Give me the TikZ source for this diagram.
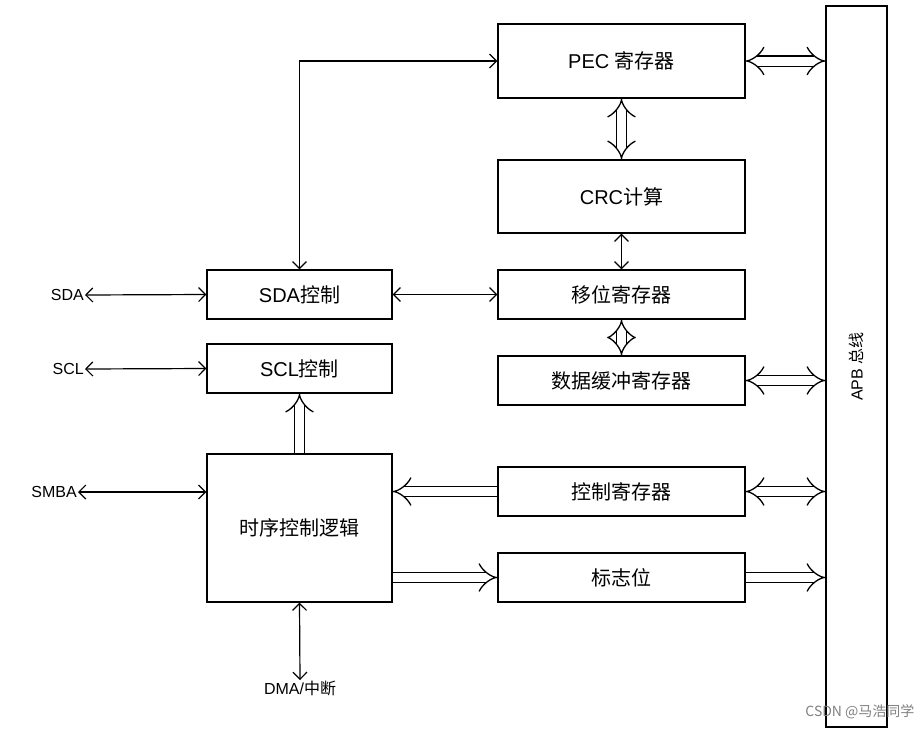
\documentclass[tikz,border=0pt]{standalone}
\usepackage{fontspec}
\setmainfont{Liberation Sans}
\newfontfamily\cjk{Noto Sans CJK SC}
\usetikzlibrary{arrows.meta,positioning}
\tikzset{
  blk/.style={draw, line width=1.2pt, minimum height=49pt, minimum width=247pt, inner sep=0pt, font=\fontsize{20}{20}\selectfont},
  lbl/.style={inner sep=1pt, font=\fontsize{16}{16}\selectfont},
  thin/.style={line width=1.2pt, {Straight Barb[length=7pt,width=14pt]}-{Straight Barb[length=7pt,width=14pt]}},
  fat/.style={line width=1.3pt, double, double distance=9pt, -{Implies[scale=1.2]}},
  fatboth/.style={line width=1.3pt, double, double distance=9pt, {Implies[scale=1.2]}-{Implies[scale=1.2]}}
}
\begin{document}
\begin{tikzpicture}[x=1pt, y=-1pt]
  \useasboundingbox (0,0) rectangle (920,731);
  % registers on the right
  \node[blk, minimum height=74pt] (pec) at (621.5,61) {PEC {\cjk 寄存器}};
  \node[blk, minimum height=73pt] (crc) at (621.5,196.5) {CRC{\cjk 计算}};
  \node[blk] (shift) at (621.5,294.5) {\cjk 移位寄存器};
  \node[blk] (buf) at (621.5,380.5) {\cjk 数据缓冲寄存器};
  \node[blk] (ctrl) at (621.5,491.5) {\cjk 控制寄存器};
  \node[blk] (flag) at (621.5,577.5) {\cjk 标志位};
  \node[draw, line width=1.2pt, minimum width=61pt, minimum height=721pt, inner sep=0pt] (apb) at (856.5,366.5)
    {\rotatebox{90}{\fontsize{16}{16}\selectfont APB {\cjk 总线}}};
  % control blocks on the left
  \node[blk, minimum width=185pt] (sda) at (299.5,294.5) {SDA{\cjk 控制}};
  \node[blk, minimum width=185pt] (scl) at (299.5,368.5) {SCL{\cjk 控制}};
  \node[blk, minimum width=185pt, minimum height=148pt] (time) at (299.5,528) {\cjk 时序控制逻辑};
  % outside signals
  \node[lbl, anchor=east] (sdapin) at (85,295) {SDA};
  \node[lbl, anchor=east] (sclpin) at (85,369) {SCL};
  \node[lbl, anchor=east] (smba) at (78,492) {SMBA};
  \node[lbl, anchor=north] (dma) at (300,680) {DMA/{\cjk 中断}};
  \node[font=\fontsize{14}{14}\selectfont\cjk, text=gray, anchor=east] (mark) at (918,712) {CSDN @马浩同学};

  \draw[thin] (sdapin.east) -- (sda.west);
  \draw[thin] (sclpin.east) -- (scl.west);
  \draw[thin] (smba.east) -- (time.west |- smba.east);
  \draw[thin] (sda) -- (shift);
  \draw[thin] (sda.north) |- (pec.west);
  \draw[thin] (crc) -- (shift);
  \draw[thin] (time.south) -- (dma.north);
  \draw[fatboth] (pec) -- (crc);
  \draw[fatboth] (shift) -- (buf);
  \draw[fat] (time.north) -- (scl.south);
  \draw[fat] (ctrl.west) -- (time.east |- ctrl.west);
  \draw[fat] (time.east |- flag.west) -- (flag.west);
  \draw[fatboth] (pec.east) -- (apb.west |- pec.east);
  \draw[fatboth] (buf.east) -- (apb.west |- buf.east);
  \draw[fatboth] (ctrl.east) -- (apb.west |- ctrl.east);
  \draw[fat] (flag.east) -- (apb.west |- flag.east);
\end{tikzpicture}
\end{document}
